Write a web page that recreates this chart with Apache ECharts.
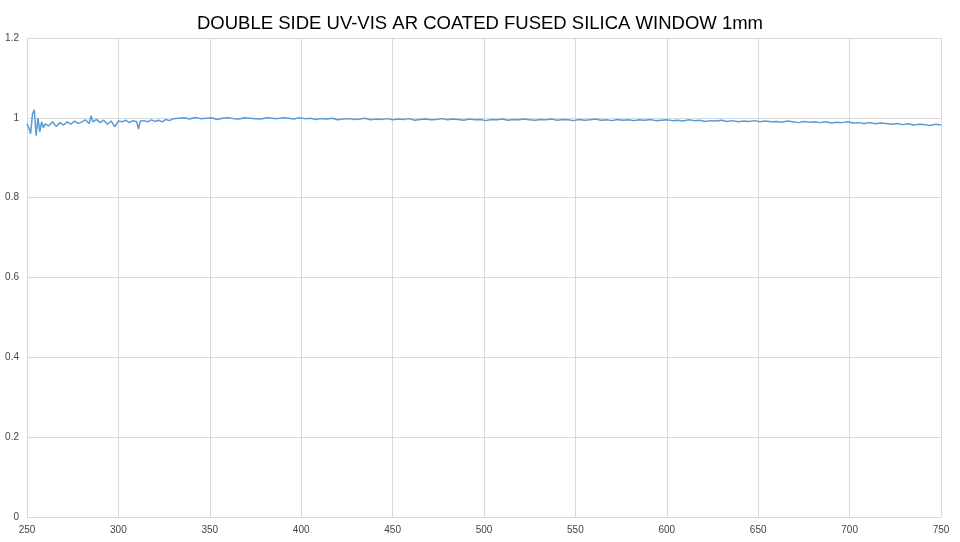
<!DOCTYPE html>
<html><head><meta charset="utf-8">
<script src="https://cdn.jsdelivr.net/npm/echarts@6/dist/echarts.min.js"></script>
<style>html,body{margin:0;padding:0;background:#fff}#c{width:960px;height:542px}</style>
</head><body><div id="c"></div>
<script>
const title = "DOUBLE SIDE UV-VIS AR COATED FUSED SILICA WINDOW 1mm";
const wavelength = [250,251,252,253,254,255,256,257,258,259,260,262,264,266,268,270,272,274,276,278,280,282,284,285,286,288,290,292,294,296,298,300,302,304,306,308,310,311,312,314,316,318,320,322,324,326,328,330,333,336,339,342,345,348,351,354,357,360,363,366,369,372,375,378,381,384,387,390,393,396,399,402,405,408,411,414,417,420,423,426,429,432,435,438,441,444,447,450,453,456,459,462,465,468,471,474,477,480,483,486,489,492,495,498,501,504,507,510,513,516,519,522,525,528,531,534,537,540,543,546,549,552,555,558,561,564,567,570,573,576,579,582,585,588,591,594,597,600,603,606,609,612,615,618,621,624,627,630,633,636,639,642,645,648,651,654,657,660,663,666,669,672,675,678,681,684,687,690,693,696,699,702,705,708,711,714,717,720,723,726,729,732,735,738,741,744,747,750];
const transmission = [0.985,0.975,0.96,1.01,1.02,0.955,1.0,0.965,0.99,0.975,0.985,0.98,0.99,0.978,0.988,0.982,0.99,0.984,0.992,0.986,0.99,0.995,0.985,1.005,0.99,0.996,0.988,0.994,0.984,0.992,0.978,0.992,0.99,0.994,0.988,0.993,0.99,0.972,0.992,0.993,0.99,0.995,0.991,0.994,0.99,0.996,0.993,0.998,0.999,1.0,0.997,1.001,0.998,0.999,1.0,0.996,0.999,1.0,0.998,0.997,1.0,0.999,0.998,0.997,1.0,0.999,0.998,1.0,0.999,0.997,1.0,0.998,0.999,0.996,0.998,0.997,0.999,0.995,0.997,0.998,0.996,0.997,0.999,0.995,0.997,0.996,0.998,0.995,0.997,0.996,0.998,0.994,0.996,0.997,0.995,0.996,0.998,0.995,0.997,0.996,0.994,0.997,0.995,0.996,0.993,0.996,0.995,0.997,0.994,0.996,0.995,0.997,0.995,0.994,0.996,0.995,0.997,0.994,0.996,0.995,0.993,0.996,0.994,0.995,0.997,0.994,0.995,0.993,0.996,0.994,0.995,0.993,0.995,0.994,0.996,0.993,0.994,0.995,0.993,0.994,0.992,0.995,0.993,0.994,0.991,0.993,0.992,0.994,0.991,0.993,0.99,0.992,0.991,0.993,0.99,0.992,0.99,0.991,0.989,0.992,0.99,0.988,0.991,0.989,0.99,0.988,0.99,0.987,0.989,0.988,0.99,0.987,0.988,0.986,0.988,0.985,0.987,0.986,0.984,0.986,0.983,0.985,0.982,0.984,0.983,0.981,0.984,0.982,0.983,0.981,0.982];
const xTicks = [250,300,350,400,450,500,550,600,650,700,750];
const yTicks = [0,0.2,0.4,0.6,0.8,1,1.2];
const chart = echarts.init(document.getElementById('c'));
chart.setOption({
  animation:false,
  title:{text:title,left:'center',top:9,textStyle:{fontFamily:'Liberation Sans, Arial',fontSize:18.5,fontWeight:'normal',color:'#000'}},
  grid:{left:27,right:19,top:38,bottom:25},
  xAxis:{type:'value',min:250,max:750,interval:50,
    axisLine:{show:false},axisTick:{show:false},
    axisLabel:{fontSize:10,color:'#444',fontFamily:'Liberation Sans, Arial'},
    splitLine:{show:true,lineStyle:{color:'#d9d9d9'}}},
  yAxis:{type:'value',min:0,max:1.2,interval:0.2,
    axisLine:{show:true,lineStyle:{color:'#d9d9d9'}},axisTick:{show:false},
    axisLabel:{fontSize:10,color:'#444',fontFamily:'Liberation Sans, Arial',formatter:v=>String(+v.toFixed(1))},
    splitLine:{lineStyle:{color:'#d9d9d9'}}},
  series:[{type:'line',data:wavelength.map((w,i)=>[w,transmission[i]]),showSymbol:false,
    lineStyle:{color:'#5b9bd5',width:1.5}}]
});
</script></body></html>
